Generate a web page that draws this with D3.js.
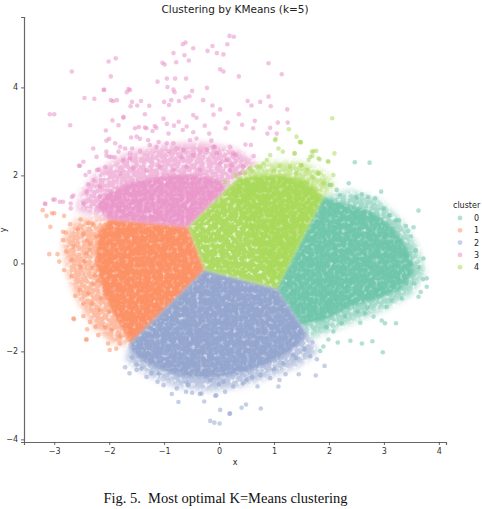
<!DOCTYPE html>
<html lang="en">
<head>
<meta charset="UTF-8">
<title>Clustering by KMeans (k=5)</title>
<script src="https://d3js.org/d3.v7.min.js"></script>
<style>
  body { margin: 0; background: #fff; }
  svg { display: block; }
  .tick text { font-family: "DejaVu Sans", sans-serif; font-size: 8px; fill: #333; }
</style>
</head>
<body>
<svg id="chart" width="482" height="509"></svg>
<script>
// cluster ids and seaborn Set2 colours
const clusterIds = [0, 1, 2, 3, 4];
const palette = ["#66c2a5", "#fc8d62", "#8da0cb", "#e78ac3", "#a6d854"];
const xTicks = [-3, -2, -1, 0, 1, 2, 3, 4];
const yTicks = [-4, -2, 0, 2, 4];

// dense cores (outline of the solid-looking areas)
const core0 = [[1.9,1.51],[2.3,1.35],[2.75,1.2],[3.15,0.85],[3.45,0.3],[3.55,-0.2],[3.3,-0.6],[2.9,-0.8],[2.4,-1.0],[1.9,-1.3],[1.5,-1.4],[1.05,-0.57]];
const core1 = [[-0.56,0.82],[-1.3,0.92],[-2.0,1.0],[-2.2,0.7],[-2.25,0.0],[-2.1,-0.7],[-1.9,-1.2],[-1.7,-1.6],[-1.62,-1.82],[-0.26,-0.15]];
const core2 = [[-0.26,-0.15],[1.05,-0.57],[1.6,-1.62],[1.4,-1.9],[1.05,-2.2],[0.44,-2.5],[-0.16,-2.62],[-0.77,-2.55],[-1.38,-2.25],[-1.62,-1.95],[-1.62,-1.82]];
const core3 = [[-2.0,1.0],[-2.25,1.3],[-2.05,1.6],[-1.6,1.85],[-1.0,2.0],[-0.4,2.02],[0.0,1.9],[0.14,1.69],[-0.56,0.82],[-1.3,0.92]];
const core4 = [[-0.56,0.82],[0.14,1.69],[0.4,1.95],[0.75,2.0],[1.2,2.0],[1.6,1.88],[1.9,1.51],[1.05,-0.57],[0.44,-0.37],[-0.26,-0.15]];

// medium-density fringes
const halo0 = [[1.9,1.51],[2.4,1.65],[2.9,1.45],[3.3,1.0],[3.6,0.4],[3.75,-0.2],[3.5,-0.7],[3.0,-1.05],[2.5,-1.3],[2.0,-1.55],[1.65,-1.7],[1.05,-0.57]];
const halo1 = [[-0.56,0.82],[-2.0,1.0],[-2.6,1.0],[-2.85,0.5],[-2.75,-0.3],[-2.55,-0.9],[-2.25,-1.5],[-1.9,-1.85],[-1.62,-1.82],[-0.26,-0.15]];
const halo2 = [[-0.26,-0.15],[1.05,-0.57],[1.65,-1.7],[1.8,-2.0],[1.5,-2.3],[1.0,-2.55],[0.4,-2.8],[-0.2,-2.9],[-0.8,-2.8],[-1.3,-2.55],[-1.7,-2.2],[-1.62,-1.82]];
const halo3 = [[-0.56,0.82],[-2.0,1.0],[-2.6,1.2],[-2.5,1.65],[-2.2,2.1],[-1.7,2.5],[-1.0,2.7],[-0.3,2.75],[0.3,2.6],[0.7,2.3],[0.14,1.69]];
const halo4 = [[0.14,1.69],[0.5,2.12],[0.9,2.3],[1.5,2.3],[1.95,2.05],[2.1,1.8],[1.9,1.51],[1.05,-0.57]];

// loose points outside the dense areas
const pts0 = [[2.47,2.30],[2.74,2.29],[2.95,1.63],[2.36,1.82],[2.60,1.57],[2.71,1.51],[2.84,1.48],[3.63,1.20],[3.22,0.98],[3.44,0.74],[3.54,0.82],[3.49,0.61],[3.72,0.11],[3.63,-0.08],[3.78,-0.53],[3.71,-0.36],[3.63,-0.76],[3.33,-0.80],[3.22,-1.36],[2.98,-2.02],[2.79,-1.77],[2.60,-1.82],[2.39,-1.76],[2.16,-1.80],[1.90,-1.89],[1.84,-1.99],[2.08,-1.55],[2.23,-1.36],[2.57,-1.35],[2.81,-1.21],[2.96,-1.30],[3.05,-0.99],[2.87,-0.68],[3.42,-0.46],[2.14,1.67],[2.02,1.78],[3.78,-0.34],[3.67,-0.65],[3.02,-1.36],[2.66,-1.14],[2.52,-1.10],[1.99,-1.73],[3.28,0.98],[3.58,0.30],[3.40,0.20],[3.10,1.10],[3.3,0.5],[3.5,0.0],[3.55,-0.45],[3.15,-0.85],[2.7,-1.0],[2.3,-1.2],[1.95,-1.45],[2.5,1.5],[2.2,1.55],[3.0,1.25],[3.4,0.85]];
const pts1 = [[-3.21,1.21],[-3.14,1.08],[-3.04,1.14],[-2.82,1.08],[-3.07,0.83],[-2.79,0.70],[-2.84,0.53],[-2.71,0.89],[-2.52,1.00],[-2.38,0.92],[-2.57,0.77],[-2.47,0.67],[-3.09,0.21],[-2.94,0.21],[-2.91,0.04],[-2.82,-0.15],[-2.68,-0.29],[-2.78,0.27],[-2.65,0.38],[-2.68,0.07],[-2.53,-0.08],[-2.41,0.23],[-2.62,-0.74],[-2.53,-0.61],[-2.47,-0.91],[-2.65,-1.25],[-2.47,-1.20],[-2.35,-1.33],[-2.40,-1.50],[-2.25,-1.44],[-2.20,-1.63],[-2.08,-1.44],[-2.42,-1.73],[-2.02,-1.82],[-1.99,-1.97],[-1.87,-1.94],[-1.80,-1.82],[-2.29,-0.46],[-2.38,-0.68],[-2.32,-0.91],[-2.17,-1.06],[-2.26,-0.27],[-2.35,0.45],[-2.23,0.61],[-3.0,1.14],[-2.84,0.72],[-2.64,-1.27],[-2.41,-1.73],[-2.3,0.9],[-2.35,0.3],[-2.3,-0.1],[-2.2,-0.4],[-2.15,-0.8],[-2.0,-1.1],[-1.95,-1.5],[-1.8,-1.65],[-2.4,0.5],[-2.45,0.05]];
const pts2 = [[-1.71,-2.36],[-1.63,-2.50],[-1.59,-2.14],[-1.41,-2.39],[-1.23,-2.50],[-1.12,-2.69],[-0.86,-2.97],[-0.74,-3.15],[-0.60,-2.92],[-0.49,-2.94],[-0.35,-2.97],[-0.27,-3.14],[-0.16,-3.58],[-0.085,-3.62],[0.01,-3.64],[-0.05,-3.0],[0.02,-3.33],[0.19,-3.42],[0.41,-3.28],[0.49,-3.21],[0.76,-3.30],[0.11,-2.92],[0.26,-2.80],[0.44,-2.73],[0.60,-2.59],[0.93,-2.61],[1.08,-2.80],[1.10,-2.65],[1.21,-2.52],[1.45,-2.52],[1.76,-2.55],[1.92,-2.33],[1.66,-2.11],[1.78,-2.18],[1.35,-2.08],[1.17,-2.27],[0.75,-2.54],[-0.77,-2.84],[-1.01,-2.77],[-1.32,-2.58],[-1.50,-2.42],[-0.56,-2.77],[-0.16,-2.65],[0.08,-2.69],[0.70,-2.80],[-0.32,-2.96],[-0.07,-3.01],[0.2,-3.41],[-1.5,-2.3],[-1.1,-2.5],[-0.6,-2.7],[0.0,-2.75],[0.5,-2.65],[1.0,-2.4],[1.4,-2.15],[1.7,-1.8],[1.55,-1.95]];
const pts3 = [[-3.08,3.39],[-3.00,3.39],[-2.68,4.36],[-2.71,3.14],[-2.01,4.59],[-1.88,4.66],[-1.97,4.25],[-2.10,3.94],[-2.45,3.76],[-2.27,3.74],[-1.97,3.71],[-1.93,3.69],[-1.68,3.89],[-1.65,3.96],[-1.585,3.67],[-1.61,3.57],[-1.49,3.59],[-1.42,3.69],[-1.27,3.58],[-1.35,3.39],[-1.74,3.31],[-1.94,3.25],[-1.83,3.14],[-2.06,3.02],[-2.00,2.83],[-2.05,2.79],[-2.29,2.61],[-2.23,2.42],[-1.96,2.42],[-1.80,2.65],[-1.60,2.86],[-1.58,2.61],[-1.44,2.83],[-1.46,3.10],[-1.35,3.09],[-1.21,3.01],[-1.17,3.12],[-1.03,4.56],[-0.99,4.52],[-1.12,4.13],[-0.95,4.20],[-0.80,4.20],[-0.94,4.01],[-0.83,3.95],[-0.81,3.89],[-0.60,4.20],[-0.54,3.80],[-0.49,3.92],[-0.61,3.77],[-0.73,3.69],[-0.87,3.71],[-1.00,3.67],[-0.91,3.60],[-1.01,3.29],[-1.14,3.08],[-0.95,3.17],[-0.82,3.13],[-0.735,3.22],[-0.66,3.03],[-0.59,3.11],[-0.47,3.37],[-0.41,3.31],[-0.29,3.71],[-0.22,3.99],[-0.66,4.98],[-0.61,5.02],[-0.47,4.89],[-0.83,4.78],[-0.78,4.57],[-0.63,4.73],[-0.55,4.61],[-0.21,4.83],[-0.12,4.94],[-0.04,4.78],[0.08,4.75],[0.15,4.98],[0.19,5.17],[0.27,5.15],[0.02,4.41],[0.08,4.36],[0.36,4.25],[0.90,4.55],[1.14,4.30],[-0.12,3.59],[0.02,3.50],[-0.10,3.38],[0.16,3.20],[0.12,3.07],[0.36,3.39],[0.52,3.69],[0.59,3.59],[0.75,3.67],[0.90,3.79],[0.94,3.57],[0.65,3.24],[0.62,3.07],[0.93,3.08],[1.07,3.20],[1.24,3.50],[1.25,3.20],[1.05,2.95],[0.88,2.95],[0.42,3.15],[-0.26,3.13],[-0.18,2.95],[-0.47,2.98],[-0.53,2.80],[-0.65,2.58],[-0.77,2.61],[-0.41,2.84],[-0.14,2.79],[-0.08,2.65],[0.20,2.65],[0.30,2.47],[0.48,2.70],[0.58,2.69],[0.63,2.44],[0.44,2.20],[0.23,2.23],[0.14,2.35],[-0.04,2.50],[-0.225,2.58],[-0.92,2.55],[-0.95,2.73],[-1.10,2.76],[-1.26,2.69],[-1.44,2.56],[-1.62,2.50],[-1.71,2.61],[-1.62,2.39],[-1.74,2.35],[-1.90,2.41],[-2.05,2.45],[-2.19,2.13],[-2.07,2.19],[-2.47,2.31],[-2.53,2.22],[-2.43,2.01],[-2.38,1.80],[-2.65,1.54],[-2.70,1.36],[-2.84,1.40],[-3.02,1.45],[-3.16,1.35],
  [-3.17,1.36],[-2.99,1.45],[-2.90,1.40],[-2.68,1.51],[-2.70,1.25],[-2.55,2.22],[-2.36,2.08],[-2.22,2.12],[-2.29,1.89],[-2.17,1.74],[-2.0,2.42],[-1.89,2.73],[-1.74,3.33],[-1.62,3.94],[-1.86,3.71],[-2.09,3.95],[-2.05,2.54],[-1.83,2.54],[-1.53,3.07],[-1.50,2.88],[-1.32,3.07],[-1.29,2.80],[-1.14,2.65],[-0.92,2.95],[-0.83,2.73],[-0.68,2.42],[-0.47,2.46],[-0.35,2.54],[-0.10,2.65],[0.02,2.27],[0.26,2.50],[0.20,2.12],[0.38,2.05],[-1.56,2.16],[-1.32,2.12],[-1.08,2.20],[-0.83,2.12],[-0.59,2.20],[-0.35,2.12],[-1.80,2.05],[-2.17,1.52],[-2.47,1.36],[-2.41,1.63]];
const pts4 = [[1.48,2.76],[1.37,2.50],[1.16,2.54],[1.72,2.55],[1.70,2.44],[1.81,2.39],[1.99,2.31],[2.10,2.50],[1.50,2.23],[1.60,2.12],[1.81,2.04],[2.08,2.01],[1.90,1.82],[2.05,1.78],[1.29,2.20],[1.08,2.61],[2.06,3.30],[1.27,3.05],[1.02,2.80],[1.41,2.88],[1.49,2.75],[1.38,2.50],[1.69,2.54],[1.77,2.56],[1.98,2.32],[1.83,2.36],[1.66,2.42],[1.49,2.23],[1.81,2.06],[0.93,2.46],[0.81,2.27],[0.69,2.20],[0.56,2.16],[0.47,2.05],[1.11,2.22],[0.38,1.89],[1.03,2.83],[1.47,2.76],[0.87,2.35],[0.75,2.20],[1.63,2.35],[0.3,2.0],[0.6,2.1],[1.0,2.1],[1.4,2.05],[1.7,1.95],[0.1,1.85]];

const cores = [core0, core1, core2, core3, core4];
const halos = [halo0, halo1, halo2, halo3, halo4];
const points = [pts0, pts1, pts2, pts3, pts4];
const coreOpacity = [0.85, 0.92, 0.85, 0.72, 0.92];

const svg = d3.select('#chart');
const x = d3.scaleLinear().domain([-3.55, 4.13]).range([24, 446]);
const y = d3.scaleLinear().domain([-4.06, 5.6]).range([442, 17]);
const colour = d3.scaleOrdinal().domain(clusterIds).range(palette);
const line = d3.line().x(d => x(d[0])).y(d => y(d[1])).curve(d3.curveLinearClosed);

// soft fringe + speckled texture so the clouds don't look like flat shapes
const defs = svg.append('defs');
function speckle(id, blur, gain, offset, seed) {
    const f = defs.append('filter').attr('id', id)
        .attr('x', '-20%').attr('y', '-20%').attr('width', '140%').attr('height', '140%');
    f.append('feGaussianBlur').attr('in', 'SourceGraphic').attr('stdDeviation', blur).attr('result', 'b');
    f.append('feTurbulence').attr('type', 'fractalNoise').attr('baseFrequency', 0.24)
        .attr('numOctaves', 2).attr('seed', seed).attr('result', 'n');
    f.append('feColorMatrix').attr('in', 'n').attr('type', 'matrix')
        .attr('values', `0 0 0 0 0  0 0 0 0 0  0 0 0 0 0  ${gain} 0 0 0 ${offset}`).attr('result', 'm');
    f.append('feComposite').attr('in', 'b').attr('in2', 'm').attr('operator', 'in');
}
speckle('soft', 3.2, 3, -0.45, 4);
speckle('edge', 1.4, 3, -0.3, 9);

// fringes, then cores, then loose points
svg.append('g').selectAll('path').data(clusterIds).join('path')
    .attr('d', c => line(halos[c]))
    .attr('fill', c => colour(c))
    .attr('fill-opacity', 0.6)
    .attr('filter', 'url(#soft)');

svg.append('g').selectAll('path').data(clusterIds).join('path')
    .attr('d', c => line(cores[c]))
    .attr('fill', c => colour(c))
    .attr('fill-opacity', c => coreOpacity[c])
    .attr('filter', 'url(#edge)');

const dots = clusterIds.flatMap(c => points[c].map(p => ({ c, x: p[0], y: p[1] })));
svg.append('g').selectAll('circle').data(dots).join('circle')
    .attr('cx', d => x(d.x))
    .attr('cy', d => y(d.y))
    .attr('r', 2.3)
    .attr('fill', d => colour(d.c))
    .attr('fill-opacity', 0.5);

// axes (despined)
const minus = d => d < 0 ? '\u2212' + Math.abs(d) : d;
const xAxis = svg.append('g').attr('transform', 'translate(0,442)')
    .call(d3.axisBottom(x).tickValues(xTicks).tickSize(3).tickPadding(3).tickFormat(minus));
const yAxis = svg.append('g').attr('transform', 'translate(24,0)')
    .call(d3.axisLeft(y).tickValues(yTicks).tickSize(3).tickPadding(3).tickFormat(minus));
[xAxis, yAxis].forEach(a => {
    a.select('.domain').attr('stroke', '#666').attr('stroke-width', 1.2);
    a.selectAll('.tick line').attr('stroke', '#444').attr('stroke-width', 0.8);
});

const font = '"DejaVu Sans", sans-serif';
svg.append('text').attr('x', 235).attr('y', 12.5).attr('text-anchor', 'middle')
    .attr('font-family', font).attr('font-size', 10.5).attr('fill', '#222')
    .text('Clustering by KMeans (k=5)');
svg.append('text').attr('x', 235).attr('y', 465).attr('text-anchor', 'middle')
    .attr('font-family', font).attr('font-size', 8).attr('fill', '#222').text('x');
svg.append('text').attr('transform', 'translate(6,230) rotate(-90)').attr('text-anchor', 'middle')
    .attr('font-family', font).attr('font-size', 8).attr('fill', '#222').text('y');

// legend
const legend = svg.append('g');
legend.append('text').attr('x', 453).attr('y', 208).attr('text-anchor', 'start')
    .attr('font-family', font).attr('font-size', 8).attr('fill', '#222').text('cluster');
const items = legend.selectAll('g.item').data(clusterIds).join('g').attr('class', 'item')
    .attr('transform', (c, i) => `translate(460,${218 + i * 12.3})`);
items.append('circle').attr('r', 2.4).attr('fill', c => colour(c)).attr('fill-opacity', 0.5);
items.append('text').attr('x', 14).attr('y', 3).attr('font-family', font).attr('font-size', 8)
    .attr('fill', '#222').text(c => c);

// figure caption
svg.append('text').attr('x', 225.5).attr('y', 503).attr('text-anchor', 'middle')
    .attr('font-family', '"Liberation Serif", serif').attr('font-size', 14.5).attr('fill', '#111')
    .attr('xml:space', 'preserve')
    .text('Fig. 5.  Most optimal K=Means clustering');
</script>
</body>
</html>
